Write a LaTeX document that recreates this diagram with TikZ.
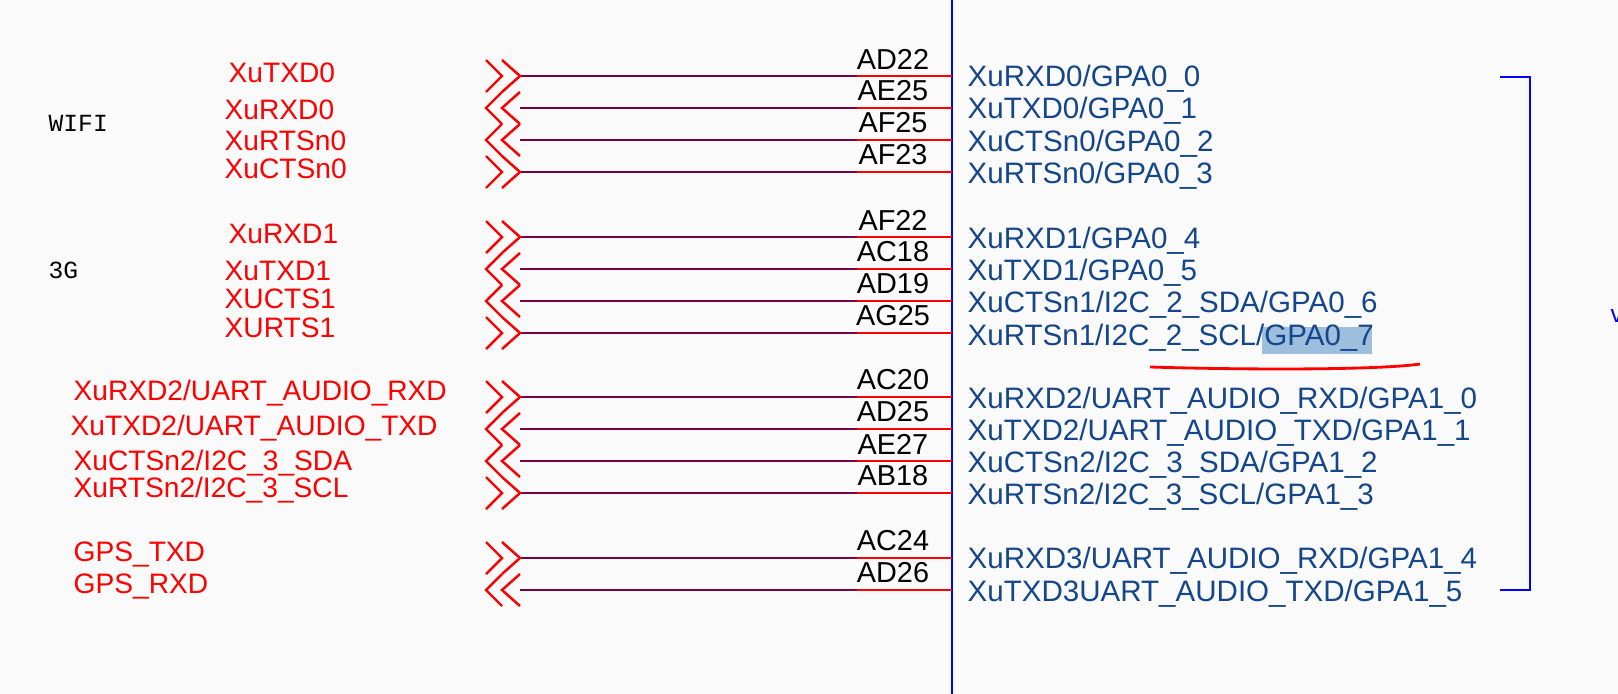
\documentclass[tikz,border=0pt]{standalone}
\usepackage{fontspec}
\setmainfont{Liberation Sans}
\newfontfamily\monof{Liberation Mono}
\definecolor{rtxt}{RGB}{20,70,140}
\definecolor{wirec}{RGB}{122,0,64}
\definecolor{hl}{RGB}{157,190,220}
\definecolor{bg}{RGB}{250,250,250}
\begin{document}
\begin{tikzpicture}[x=0.01cm,y=-0.01cm,
  pin/.style={font=\fontsize{8.2pt}{9pt}\selectfont,inner sep=0pt},
  rl/.style={font=\fontsize{8.4pt}{10pt}\selectfont,inner sep=0pt,anchor=west,text=rtxt},
  ll/.style={font=\fontsize{8pt}{9pt}\selectfont,inner sep=0pt,anchor=west,text=red},
  pl/.style={pin,anchor=center},
  wire/.style={draw=wirec,line width=0.7pt},
  rw/.style={draw=red,line width=0.7pt},
  chev/.style={draw=red,line width=0.7pt}]
\useasboundingbox[fill=bg] (0,0) rectangle (1618,694);
\draw[blue,line width=0.8pt] (952,0) -- (952,694);
\draw[blue,line width=0.8pt] (1500,77) -- (1530,77) -- (1530,590) -- (1500,590);
\node[text=blue,font=\fontsize{7pt}{8pt}\selectfont,anchor=west,inner sep=0pt] (vv) at (1610,316) {v};
\fill[hl] (1262,327) rectangle (1372,354);
\draw[red,line width=0.8pt] (1150,367) .. controls (1250,370) and (1380,370) .. (1420,364);
\node[font=\monof\fontsize{7pt}{8pt}\selectfont,anchor=west,inner sep=0pt] (wifi) at (48,123) {WIFI};
\node[font=\monof\fontsize{7pt}{8pt}\selectfont,anchor=west,inner sep=0pt] (g3) at (48,270) {3G};
% wires
\foreach \y/\d/\pn [count=\i] in {76/o/AD22,108/i/AE25,140/i/AF25,172/o/AF23,
  237/o/AF22,269/i/AC18,301/i/AD19,333/o/AG25,
  397/o/AC20,429/i/AD25,461/i/AE27,493/o/AB18,558/o/AC24,590/i/AD26}{
  \coordinate (c\i) at (520,\y);
  \coordinate (m\i) at (857,\y);
  \coordinate (e\i) at (952,\y);
  \draw[wire] (c\i) -- (m\i);
  \draw[rw] (m\i) -- (e\i);
  \node[pl] (p\i) at (893,\y-17) {\pn};
  \if\d o
    \draw[chev] (486,\y-16) -- (502,\y) -- (486,\y+16);
    \draw[chev] (502,\y-16) -- (c\i) -- (502,\y+16);
  \else
    \draw[chev] (502,\y-16) -- (486,\y) -- (502,\y+16);
    \draw[chev] (520,\y-16) -- (502,\y) -- (520,\y+16);
  \fi
}
% left labels
\node[ll] (l1) at (228,73) {XuTXD0};
\node[ll] (l2) at (224,110) {XuRXD0};
\node[ll] (l3) at (224,141) {XuRTSn0};
\node[ll] (l4) at (224,169) {XuCTSn0};
\node[ll] (l5) at (228,234) {XuRXD1};
\node[ll] (l6) at (224,271) {XuTXD1};
\node[ll] (l7) at (224,299) {XUCTS1};
\node[ll] (l8) at (224,328) {XURTS1};
\node[ll] (l9) at (73,393) {XuRXD2/UART\_AUDIO\_RXD};
\node[ll] (l10) at (70,428) {XuTXD2/UART\_AUDIO\_TXD};
\node[ll] (l11) at (73,463) {XuCTSn2/I2C\_3\_SDA};
\node[ll] (l12) at (73,490) {XuRTSn2/I2C\_3\_SCL};
\node[ll] (l13) at (73,554) {GPS\_TXD};
\node[ll] (l14) at (73,586) {GPS\_RXD};
% right labels
\node[rl] (r1) at (967,79) {XuRXD0/GPA0\_0};
\node[rl] (r2) at (967,111) {XuTXD0/GPA0\_1};
\node[rl] (r3) at (967,144) {XuCTSn0/GPA0\_2};
\node[rl] (r4) at (967,176) {XuRTSn0/GPA0\_3};
\node[rl] (r5) at (967,241) {XuRXD1/GPA0\_4};
\node[rl] (r6) at (967,273) {XuTXD1/GPA0\_5};
\node[rl] (r7) at (967,305) {XuCTSn1/I2C\_2\_SDA/GPA0\_6};
\node[rl] (r8) at (967,338) {XuRTSn1/I2C\_2\_SCL/GPA0\_7};
\node[rl] (r9) at (967,401) {XuRXD2/UART\_AUDIO\_RXD/GPA1\_0};
\node[rl] (r10) at (967,433) {XuTXD2/UART\_AUDIO\_TXD/GPA1\_1};
\node[rl] (r11) at (967,465) {XuCTSn2/I2C\_3\_SDA/GPA1\_2};
\node[rl] (r12) at (967,497) {XuRTSn2/I2C\_3\_SCL/GPA1\_3};
\node[rl] (r13) at (967,561) {XuRXD3/UART\_AUDIO\_RXD/GPA1\_4};
\node[rl] (r14) at (967,594) {XuTXD3UART\_AUDIO\_TXD/GPA1\_5};
\end{tikzpicture}
\end{document}
